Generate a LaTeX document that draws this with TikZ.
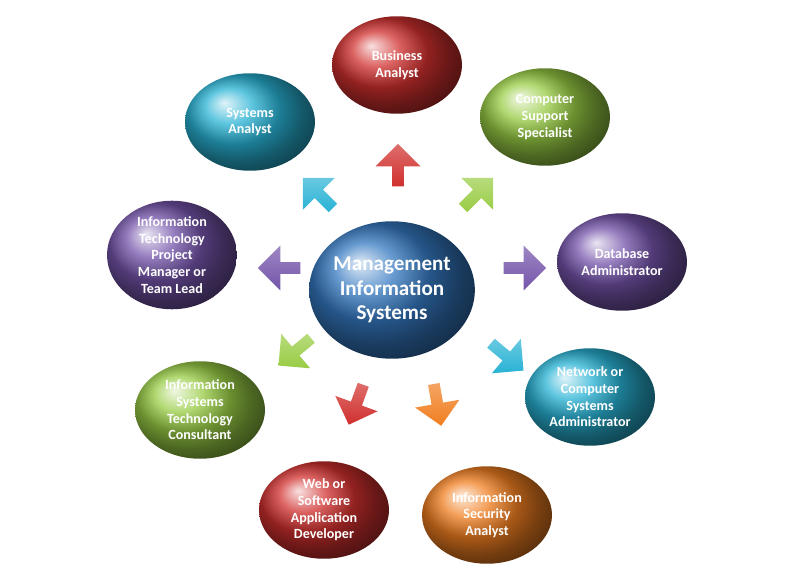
\documentclass[tikz,border=0pt]{standalone}
\usepackage{fontspec}
\setmainfont{Carlito}
\usetikzlibrary{shapes.arrows,shapes.geometric}
\definecolor{misred}{HTML}{D0302E}
\definecolor{misgreen}{HTML}{98CC44}
\definecolor{mispurple}{HTML}{7454AA}
\definecolor{miscyan}{HTML}{28B2D4}
\definecolor{misorange}{HTML}{F07E20}
\definecolor{misblue}{HTML}{3478C0}
\begin{document}
\begin{tikzpicture}[x=0.02cm,y=-0.02cm,
    role/.style={ellipse,minimum width=2.6cm,minimum height=1.95cm,inner sep=0pt,
      text=white,font=\bfseries\footnotesize,align=center,shading=ball},
    hub/.style={ellipse,minimum width=3.15cm,minimum height=2.75cm,inner sep=0pt,
      text=white,font=\bfseries\large,align=center,shading=ball,ball color=misblue},
    pointer/.style={single arrow,minimum width=0.9cm,minimum height=0.85cm,
      single arrow head extend=0.12cm,inner sep=1pt,shading=axis,draw=none}]
    \useasboundingbox (0,0) rectangle (800,580);
    \node[hub] (mis) at (392,290) {Management\\Information\\Systems};
    \node[role,ball color=misred] (ba) at (397,65) {Business\\Analyst};
    \node[role,ball color=misgreen] (css) at (545,117) {Computer\\Support\\Specialist};
    \node[role,ball color=mispurple] (dba) at (622,262) {Database\\Administrator};
    \node[role,ball color=miscyan] (net) at (590,397) {Network or\\Computer\\Systems\\Administrator};
    \node[role,ball color=misorange] (isa) at (487,515) {Information\\Security\\Analyst};
    \node[role,ball color=misred] (web) at (324,510) {Web or\\Software\\Application\\Developer};
    \node[role,ball color=misgreen] (istc) at (200,410) {Information\\Systems\\Technology\\Consultant};
    \node[role,ball color=mispurple] (itpm) at (172,255) {Information\\Technology\\Project\\Manager or\\Team Lead};
    \node[role,ball color=miscyan] (sa) at (250,122) {Systems\\Analyst};
    % block arrows pointing outward
    \node[pointer,top color=misred!70,bottom color=misred,rotate=90] (a1) at (398,168) {};
    \node[pointer,top color=misgreen!70,bottom color=misgreen,rotate=45] (a2) at (476,195) {};
    \node[pointer,top color=mispurple!70,bottom color=mispurple,rotate=0] (a3) at (522,268) {};
    \node[pointer,top color=miscyan!70,bottom color=miscyan,rotate=-40] (a4) at (505,355) {};
    \node[pointer,top color=misorange!70,bottom color=misorange,rotate=-80] (a5) at (437,402) {};
    \node[pointer,top color=misred!70,bottom color=misred,rotate=-110] (a6) at (357,402) {};
    \node[pointer,top color=misgreen!70,bottom color=misgreen,rotate=-140] (a7) at (297,350) {};
    \node[pointer,top color=mispurple!70,bottom color=mispurple,rotate=180] (a8) at (282,268) {};
    \node[pointer,top color=miscyan!70,bottom color=miscyan,rotate=135] (a9) at (320,195) {};
  \end{tikzpicture}
\end{document}
